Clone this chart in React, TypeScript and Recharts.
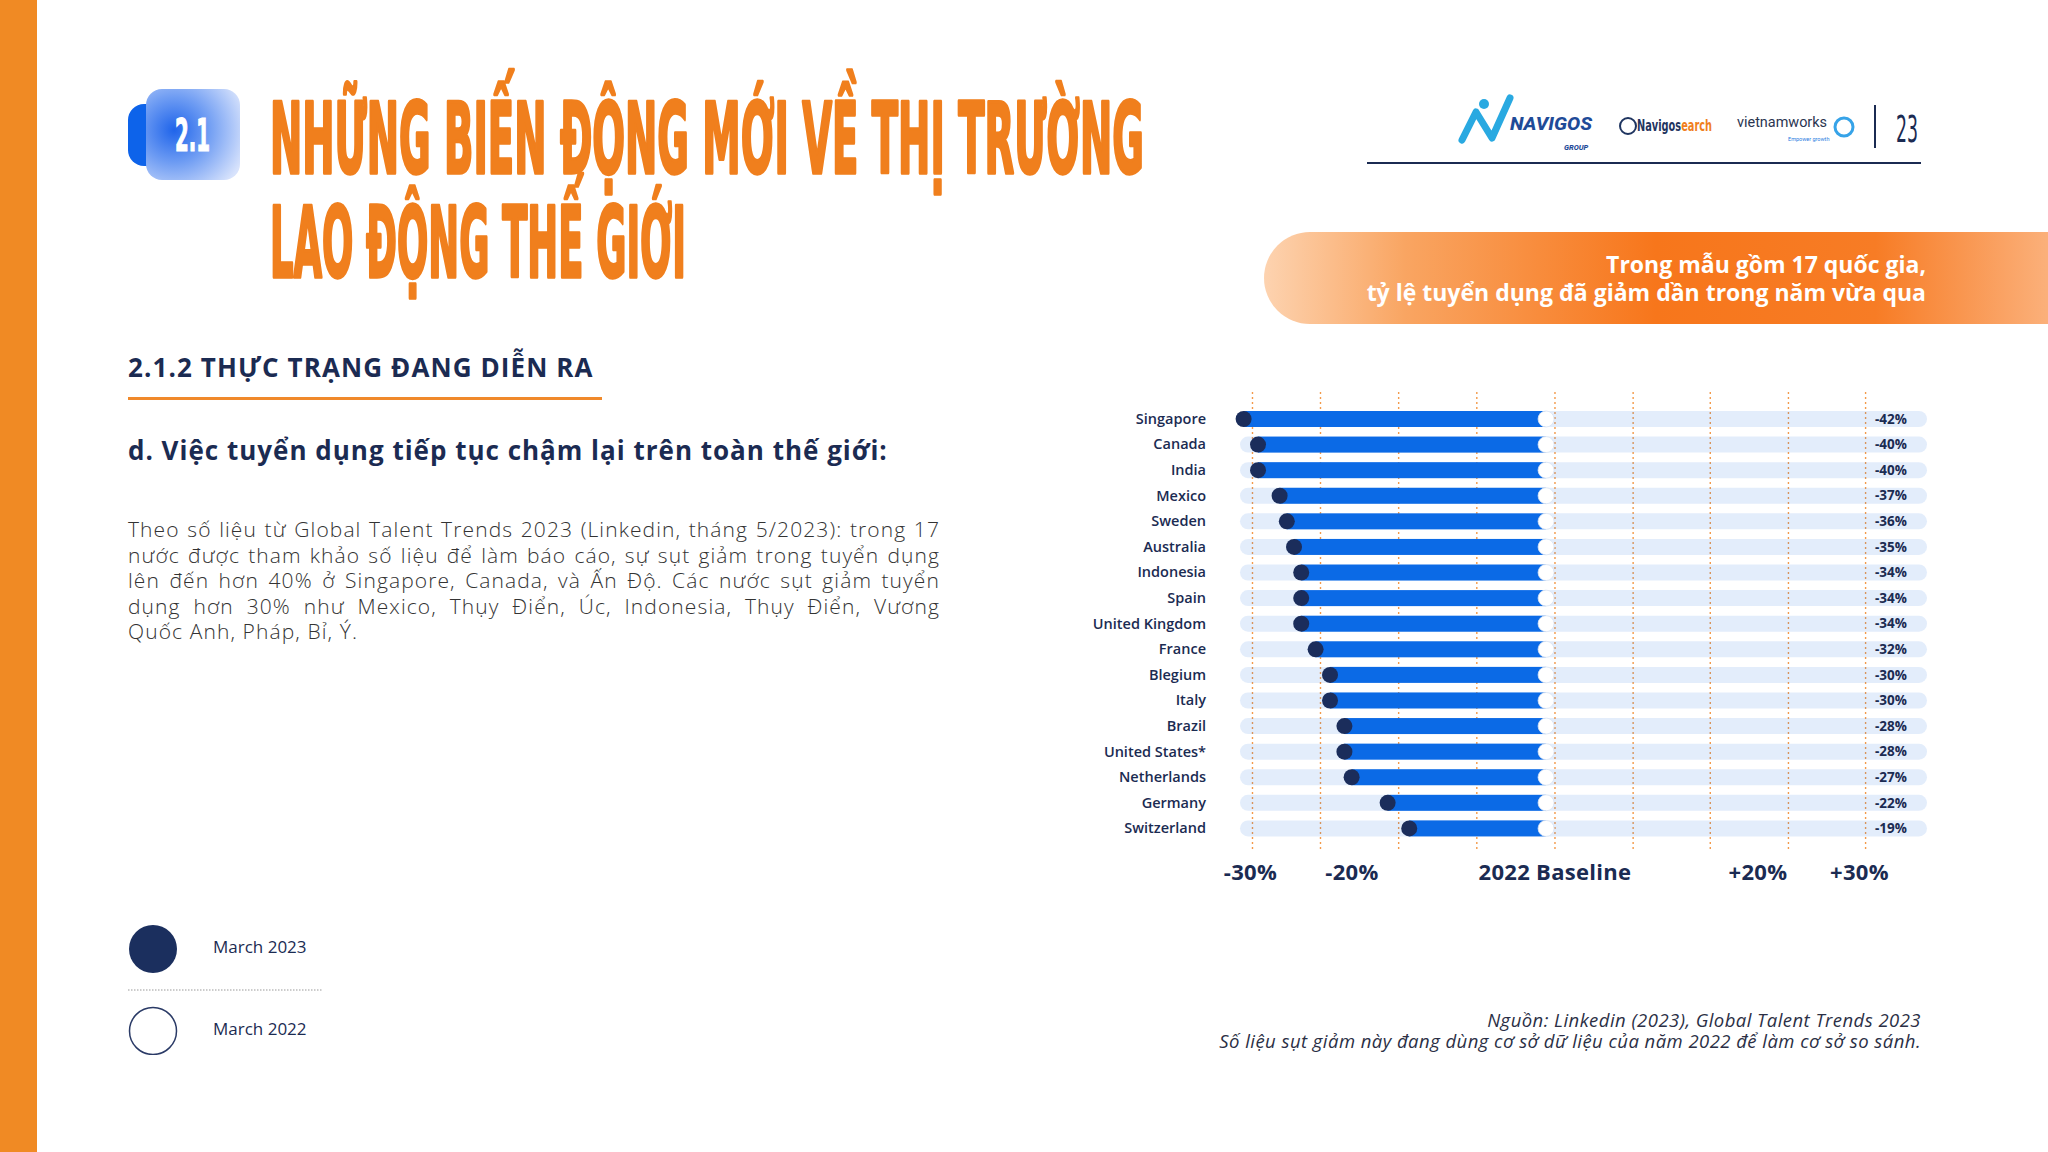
import React from 'react';
import { ComposedChart, Bar, XAxis, YAxis, CartesianGrid } from 'recharts';

// ---------- data ----------
const countries = [
  'Singapore', 'Canada', 'India', 'Mexico', 'Sweden', 'Australia', 'Indonesia', 'Spain',
  'United Kingdom', 'France', 'Blegium', 'Italy', 'Brazil', 'United States*', 'Netherlands',
  'Germany', 'Switzerland',
];
const change2023 = [-42, -40, -40, -37, -36, -35, -34, -34, -34, -32, -30, -30, -28, -28, -27, -22, -19];
const baseline2022 = 0;
const axisTicks = [-30, -20, 0, 20, 30];
const axisTickLabels = ['-30%', '-20%', '2022 Baseline', '+20%', '+30%'];
const gridValues = [-29.8, -23.1, -15.4, -7.7, 0, 7.7, 15.3, 23, 30.6];

const rows = countries.map((c, i) => ({
  country: c,
  change: change2023[i],
  range: [change2023[i], baseline2022],
}));

// ---------- layout / style ----------
const FONT = "'Open Sans', 'Noto Sans', sans-serif";
const NAVY = '#1b2b52';
const ORANGE = '#f07f1d';
const CHART_W = 900;
const CHART_H = 521;
const MARGIN = { top: 12, right: 13, bottom: 0, left: 0 };
const VAL_DOMAIN: [number, number] = [-42.5, 52.9];
const LAB_DOMAIN: [number, number] = [-31.03, 36.65];
const LABEL_X = CHART_W - MARGIN.right - 52;
const CONDENSED = "'Liberation Sans Narrow','DejaVu Sans Condensed',Roboto,sans-serif";

function DumbbellShape(props: any) {
  const { x, y, width, height, payload } = props;
  if (x == null || y == null) return null;
  const left = Math.min(x, x + width);
  const right = Math.max(x, x + width);
  const cy = y + height / 2;
  return (
    <g>
      <rect x={left} y={y} width={right - left} height={height} fill="#0b6ae6" />
      <circle cx={right} cy={cy} r={8} fill="#ffffff" stroke="#d9e3f3" strokeWidth={0.8} />
      <circle cx={left} cy={cy} r={8} fill="#1b2d5b" />
      <text x={LABEL_X} y={cy} dy="0.35em" fontSize={13.5} fontWeight={700} fill={NAVY} fontFamily={FONT}>
        {`${payload.change}%`}
      </text>
    </g>
  );
}

function CountryTick(props: any) {
  const { x, y, payload } = props;
  return (
    <text x={x} y={y} dy="0.35em" textAnchor="end" fontSize={14.5} fontWeight={600} fill={NAVY} fontFamily={FONT}>
      {payload.value}
    </text>
  );
}

function AxisLabelTick(props: any) {
  const { x, y, payload } = props;
  const idx = axisTicks.indexOf(payload.value);
  return (
    <text x={x} y={y} dy="0.8em" textAnchor="middle" fontSize={22} fontWeight={700} fill={NAVY} fontFamily={FONT}
      letterSpacing={0.3}>
      {idx >= 0 ? axisTickLabels[idx] : ''}
    </text>
  );
}

// vertical dotted guides located through the label axis scale
const gridGenerator = (args: any) => {
  const axis = args && args.xAxis;
  if (axis && typeof axis.scale === 'function') {
    return gridValues.map((v) => axis.scale(v));
  }
  const off = (args && args.offset) || { left: 200, width: 687 };
  return gridValues.map((v) => off.left + ((v - LAB_DOMAIN[0]) / (LAB_DOMAIN[1] - LAB_DOMAIN[0])) * off.width);
};

function Chart() {
  return (
    <ComposedChart
      width={CHART_W}
      height={CHART_H}
      data={rows}
      layout="vertical"
      margin={MARGIN}
      barSize={16}
    >
      <CartesianGrid
        xAxisId="lab"
        horizontal={false}
        vertical
        verticalCoordinatesGenerator={gridGenerator}
        stroke="#f39a4b"
        strokeWidth={1.4}
        strokeDasharray="2 3"
      />
      <XAxis xAxisId="val" type="number" domain={VAL_DOMAIN} hide />
      <XAxis
        xAxisId="lab"
        type="number"
        orientation="bottom"
        domain={LAB_DOMAIN}
        allowDataOverflow
        ticks={axisTicks}
        interval={0}
        height={50}
        axisLine={false}
        tickLine={false}
        tickSize={0}
        tickMargin={11}
        tick={<AxisLabelTick />}
      />
      <YAxis
        type="category"
        dataKey="country"
        width={200}
        axisLine={false}
        tickLine={false}
        tickSize={0}
        tickMargin={34}
        interval={0}
        padding={{ top: 14, bottom: 10 }}
        tick={<CountryTick />}
      />
      <Bar
        xAxisId="val"
        dataKey="range"
        isAnimationActive={false}
        background={{ fill: 'rgba(26,107,224,0.12)', radius: 8 } as any}
        shape={<DumbbellShape />}
      />
    </ComposedChart>
  );
}

export default function App() {
  const abs = (l: number, t: number, extra: React.CSSProperties = {}): React.CSSProperties => ({
    position: 'absolute',
    left: l,
    top: t,
    ...extra,
  });
  const paraLines = [
    'Theo số liệu từ Global Talent Trends 2023 (Linkedin, tháng 5/2023): trong 17',
    'nước được tham khảo số liệu để làm báo cáo, sự sụt giảm trong tuyển dụng',
    'lên đến hơn 40% ở Singapore, Canada, và Ấn Độ. Các nước sụt giảm tuyển',
    'dụng hơn 30% như Mexico, Thụy Điển, Úc, Indonesia, Thụy Điển, Vương',
    'Quốc Anh, Pháp, Bỉ, Ý.',
  ];
  return (
    <div style={{ position: 'absolute', left: 0, top: 0, width: 2048, height: 1152, background: '#fff', overflow: 'hidden', fontFamily: FONT }}>
      {/* left orange strip */}
      <div style={abs(0, 0, { width: 37, height: 1152, background: '#f08a24' })} />

      {/* badge + title */}
      <svg width={1450} height={330} style={abs(0, 0)}>
        <defs>
          <radialGradient id="badgeGrad" cx="30%" cy="45%" r="80%">
            <stop offset="0%" stopColor="#1f64ea" />
            <stop offset="45%" stopColor="#6e9cf3" />
            <stop offset="100%" stopColor="#d8e3fc" />
          </radialGradient>
        </defs>
        <rect x={128} y={104} width={50} height={62} rx={16} fill="#0d63ea" />
        <rect x={146} y={89} width={94} height={91} rx={16} fill="url(#badgeGrad)" />
        <text x={175} y={151} fontSize={44} fontWeight={700} fill="#fff" fontFamily={CONDENSED}
          stroke="#fff" strokeWidth={1.2}
          textLength={35} lengthAdjust="spacingAndGlyphs">2.1</text>
        <text x={270} y={173} fontSize={98} fontWeight={700} fill={ORANGE} fontFamily={CONDENSED}
          stroke={ORANGE} strokeWidth={3.5} strokeLinejoin="round"
          textLength={874} lengthAdjust="spacingAndGlyphs">NHỮNG BIẾN ĐỘNG MỚI VỀ THỊ TRƯỜNG</text>
        <text x={270} y={277} fontSize={98} fontWeight={700} fill={ORANGE} fontFamily={CONDENSED}
          stroke={ORANGE} strokeWidth={3.5} strokeLinejoin="round"
          textLength={416} lengthAdjust="spacingAndGlyphs">LAO ĐỘNG THẾ GIỚI</text>
      </svg>

      {/* logos */}
      <svg width={620} height={180} style={abs(1360, 0)}>
        <circle cx={124} cy={104} r={5} fill="#29a9e1" />
        <path d="M102 140 L116 112 L132 138 L150 98" stroke="#29a9e1" strokeWidth={7} fill="none" strokeLinejoin="round" strokeLinecap="round" />
        <text x={150} y={130} fontSize={18} fontWeight={800} fontStyle="italic" fill="#1f4b98" fontFamily="Roboto, sans-serif"
          textLength={82} lengthAdjust="spacingAndGlyphs">NAVIGOS</text>
        <text x={204} y={150} fontSize={7.5} fontWeight={800} fontStyle="italic" fill="#1f4b98" fontFamily="Roboto, sans-serif">GROUP</text>
        <circle cx={268} cy={126} r={8} fill="none" stroke="#1f3560" strokeWidth={2} />
        <text x={277} y={131} fontSize={15} fontWeight={800} fontFamily={CONDENSED}
          textLength={75} lengthAdjust="spacingAndGlyphs">
          <tspan fill="#1f3560">Navigos</tspan><tspan fill="#f07f1d">earch</tspan>
        </text>
        <text x={377} y={127} fontSize={14} fill="#2b3550" fontFamily="Roboto, sans-serif"
          textLength={90} lengthAdjust="spacingAndGlyphs">vietnamworks</text>
        <text x={428} y={141} fontSize={5.5} fill="#2a7de1" fontFamily="Roboto, sans-serif">Empower growth</text>
        <circle cx={484} cy={127} r={9} fill="none" stroke="#36a3e8" strokeWidth={3} />
        <line x1={515} y1={105} x2={515} y2={148} stroke={NAVY} strokeWidth={2} />
        <text x={536} y={142} fontSize={38} fontWeight={300} fill={NAVY} fontFamily={CONDENSED}
          textLength={22} lengthAdjust="spacingAndGlyphs">23</text>
        <line x1={7} y1={163} x2={561} y2={163} stroke={NAVY} strokeWidth={2} />
      </svg>

      {/* orange banner */}
      <div style={abs(1264, 232, {
        width: 784, height: 92, borderRadius: '46px 0 0 46px',
        background: 'linear-gradient(90deg, #fdd3b0 0%, #f9a562 18%, #f7761b 50%, #f77c25 78%, #fbb07a 100%)',
      })} />
      <div style={abs(1264, 250, { width: 662, textAlign: 'right', color: '#fff', fontWeight: 700, fontSize: 23, lineHeight: '28px' })}>
        Trong mẫu gồm 17 quốc gia,<br />tỷ lệ tuyển dụng đã giảm dần trong năm vừa qua
      </div>

      {/* section header */}
      <div style={abs(128, 352, { fontSize: 26, fontWeight: 700, color: NAVY, lineHeight: '30px', whiteSpace: 'nowrap', letterSpacing: 1.1 })}>
        2.1.2 THỰC TRẠNG ĐANG DIỄN RA
      </div>
      <div style={abs(128, 397, { width: 474, height: 3, background: '#f0892a' })} />
      <div style={abs(128, 435, { fontSize: 26, fontWeight: 700, color: NAVY, lineHeight: '30px', whiteSpace: 'nowrap', letterSpacing: 1 })}>
        d. Việc tuyển dụng tiếp tục chậm lại trên toàn thế giới:
      </div>

      {/* paragraph */}
      <div style={abs(128, 517, { width: 812, fontSize: 21, fontWeight: 300, color: '#333', lineHeight: '25.6px', letterSpacing: 1.1 })}>
        {paraLines.map((l, i) => (
          <div key={i} style={{ textAlign: 'justify', textAlignLast: i < paraLines.length - 1 ? 'justify' : 'left', whiteSpace: 'nowrap' } as any}>{l}</div>
        ))}
      </div>

      {/* legend */}
      <svg width={240} height={140} style={abs(100, 915)}>
        <circle cx={53} cy={34} r={24} fill="#1b2f5e" />
        <line x1={28} y1={75} x2={223} y2={75} stroke="#999" strokeWidth={1} strokeDasharray="1.5 1.5" />
        <circle cx={53} cy={116} r={23.5} fill="#fff" stroke="#2a3a66" strokeWidth={1.5} />
      </svg>
      <div style={abs(213, 936, { fontSize: 17, fontWeight: 500, color: NAVY, lineHeight: '22px' })}>March 2023</div>
      <div style={abs(213, 1018, { fontSize: 17, fontWeight: 500, color: NAVY, lineHeight: '22px' })}>March 2022</div>

      {/* chart */}
      <div style={abs(1040, 380, { width: CHART_W, height: CHART_H })}>
        <Chart />
      </div>

      {/* footer */}
      <div style={abs(900, 1009, { width: 1021, textAlign: 'right', fontSize: 18.5, fontStyle: 'italic', color: '#2b2f45', lineHeight: '21px', letterSpacing: 0.45 })}>
        Nguồn: Linkedin (2023), Global Talent Trends 2023<br />
        Số liệu sụt giảm này đang dùng cơ sở dữ liệu của năm 2022 để làm cơ sở so sánh.
      </div>
    </div>
  );
}
